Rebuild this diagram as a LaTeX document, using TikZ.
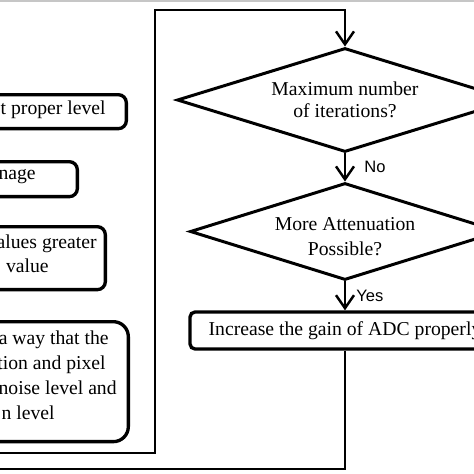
\documentclass[tikz,border=0pt]{standalone}
\usepackage{fontspec}
\setmainfont{Liberation Serif}
\setsansfont{Liberation Sans}
\usetikzlibrary{shapes.geometric,arrows.meta}

\tikzset{
  box/.style={draw,line width=1.9pt,rounded corners=0.16cm,inner sep=0pt},
  txt/.style={inner sep=0pt},
  decision/.style={draw,diamond,aspect=3.2,line width=1.7pt,inner sep=0pt,align=center},
  arr/.style={line width=1.4pt,-{Straight Barb[length=0.26cm,width=0.36cm]}},
  wire/.style={line width=1.3pt},
  lbl/.style={inner sep=0pt,font=\sffamily\fontsize{9.4pt}{11pt}\selectfont}
}

\begin{document}
\begin{tikzpicture}[x=0.02cm,y=-0.02cm,font=\fontsize{11.2pt}{14.2pt}\selectfont]
\useasboundingbox (0,0) rectangle (474,474);
\draw[gray!45,line width=1.2pt] (0,1) -- (474,1);

% left column, cut off by the page edge
\node[box,anchor=north east,minimum width=6cm,minimum height=0.68cm] (b1) at (128,93) {};
\node[txt,anchor=base east] (t1) at (106,114) {t proper level};
\node[box,anchor=north east,minimum width=6cm,minimum height=0.7cm] (b2) at (79,160) {};
\node[txt,anchor=base east] (t2) at (36,179) {nage};
\node[box,anchor=north east,minimum width=6cm,minimum height=1.26cm] (b3) at (107,225) {};
\node[txt,anchor=base east] (t3a) at (97,248) {alues greater};
\node[txt,anchor=base east] (t3b) at (49,272) {value};
\node[box,rounded corners=0.3cm,anchor=north east,minimum width=6cm,minimum height=2.4cm] (b4) at (130,320) {};
\node[txt,anchor=base east] (t4a) at (109,344) {a way that the};
\node[txt,anchor=base east] (t4b) at (106,369) {tion and pixel};
\node[txt,anchor=base east] (t4c) at (117,394) {noise level and};
\node[txt,anchor=base east] (t4d) at (55,419) {n level};

% right column
\node[decision,minimum width=6.72cm,minimum height=2.08cm] (dmax) at (345,100) {Maximum number\\[-2pt]of iterations?};
\node[decision,minimum width=6.2cm,minimum height=1.94cm] (datt) at (345,231.5) {};
\node[txt,align=center] (tatt) at (345,237) {More Attenuation\\Possible?};
\node[box,rounded corners=0.1cm,minimum width=6.2cm,minimum height=0.74cm] (gain) at (345,330.5) {Increase the gain of ADC properly};
\node[lbl,anchor=west] (no) at (364,167) {No};
\node[lbl,anchor=west] (yes) at (356,296) {Yes};

\draw[arr] (dmax.south) -- (datt.north);
\draw[arr] (datt.south) -- (gain.north);

% loop lines
\coordinate (from) at (0,453);
\coordinate (back) at (0,469);
\draw[arr] (from) -| (155,10) -| (dmax.north);
\draw[wire] (gain.south) |- (back);
\end{tikzpicture}
\end{document}
